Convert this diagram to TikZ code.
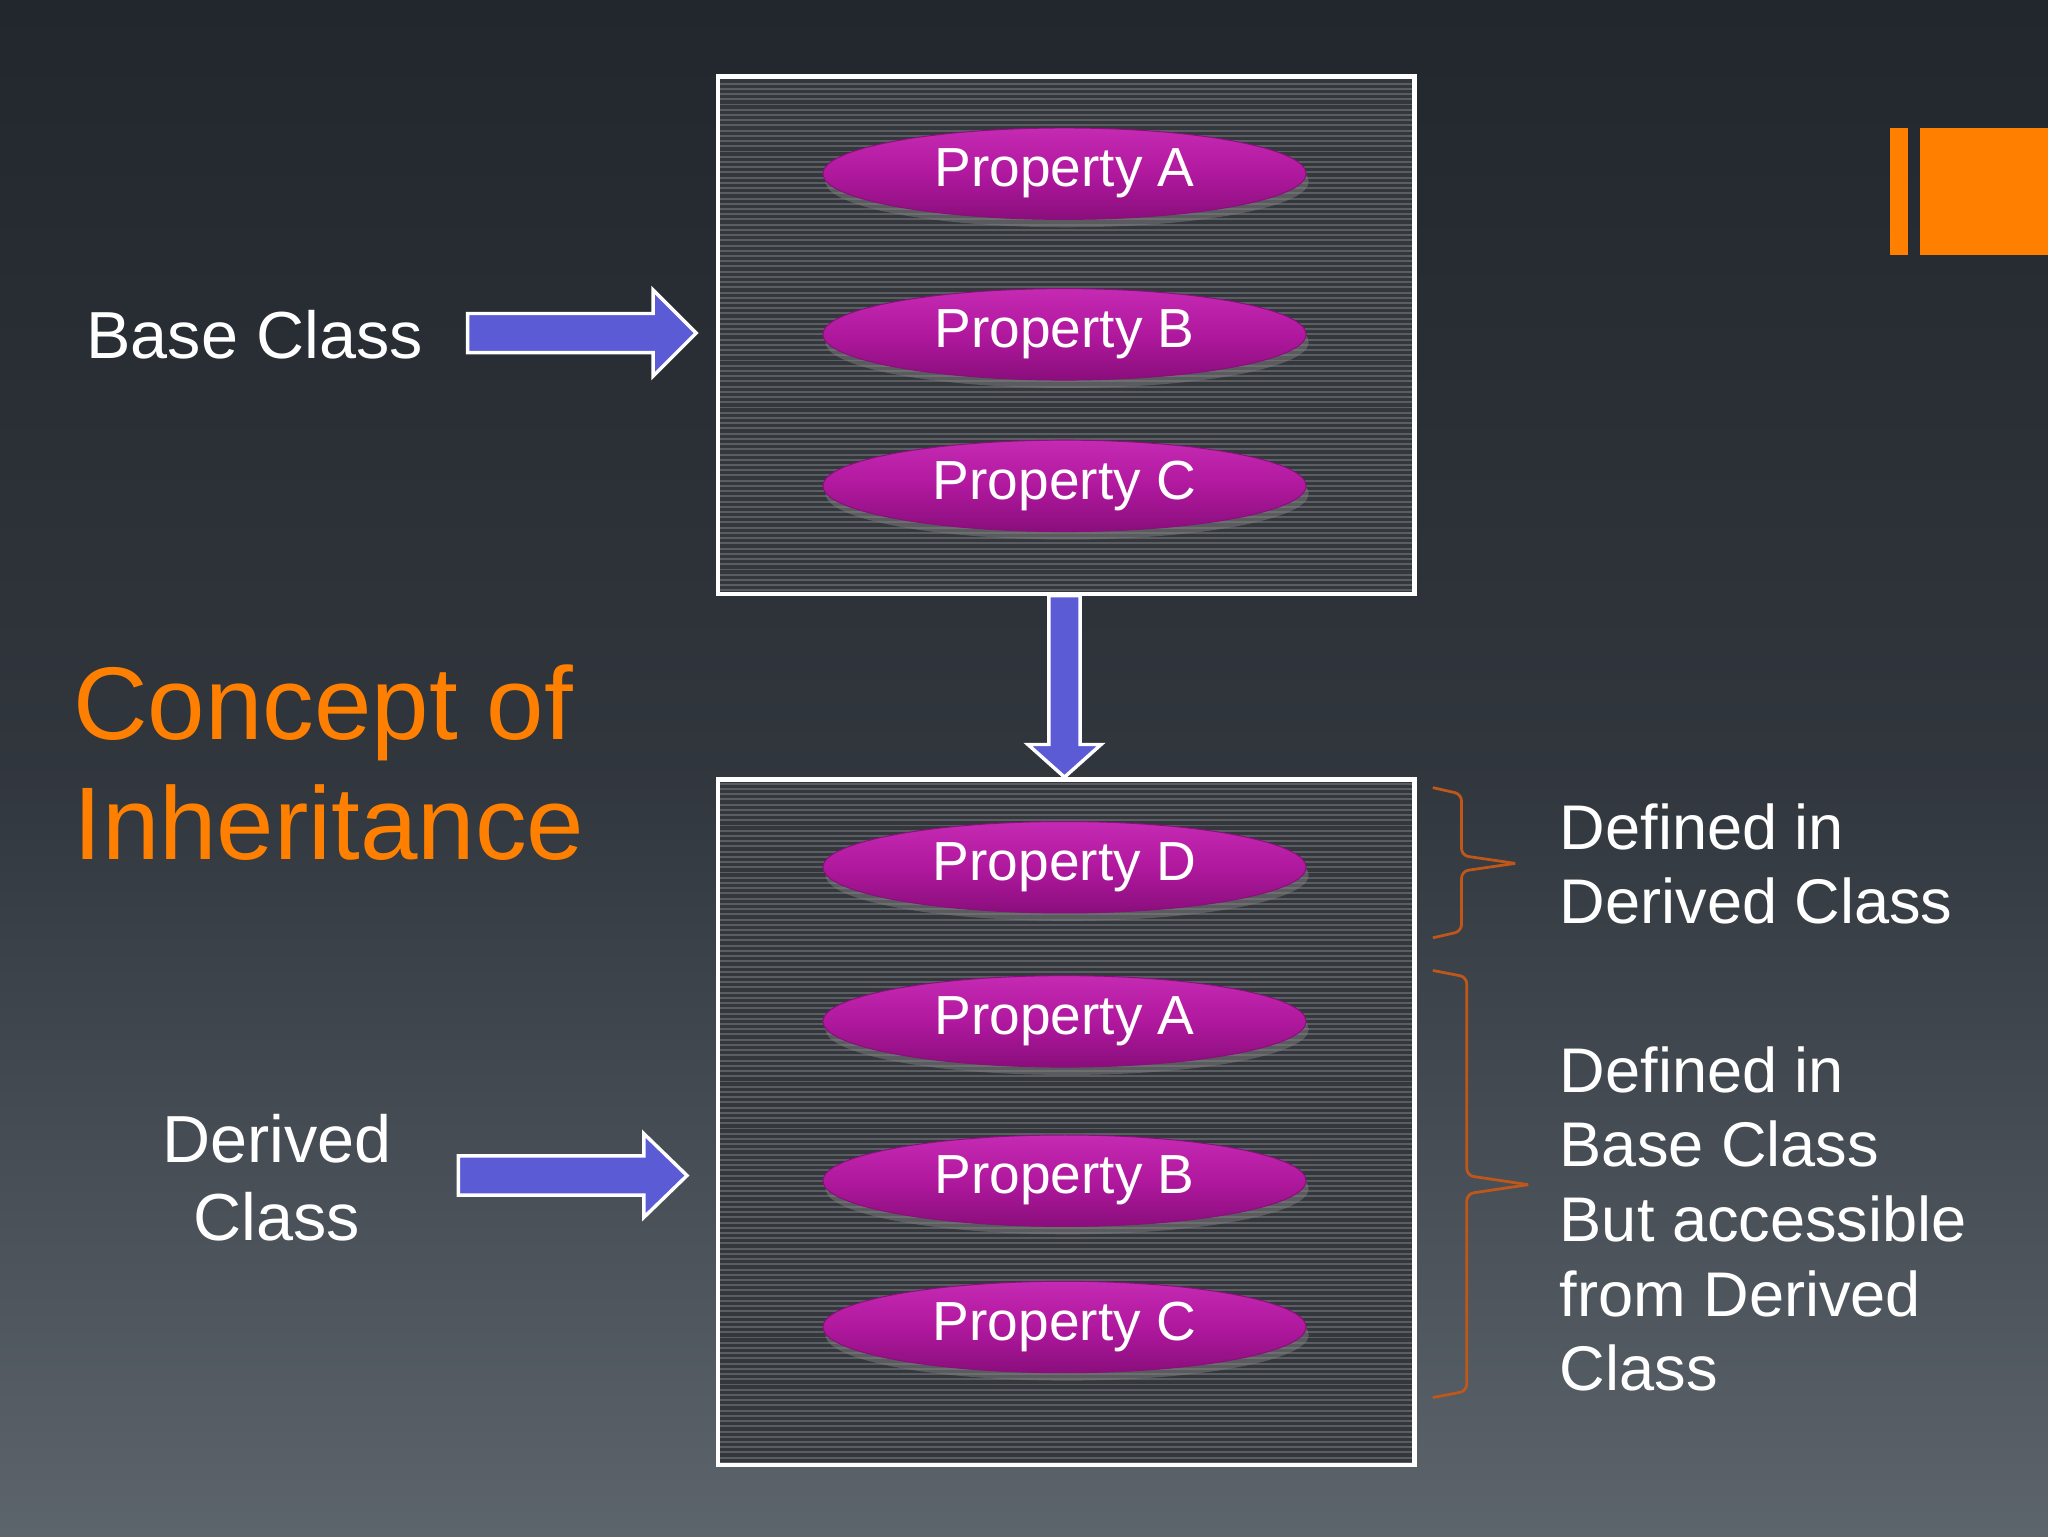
\documentclass[tikz,border=0pt]{standalone}
\usepackage{fontspec}
\setmainfont{Liberation Sans}
\usetikzlibrary{shadows,shapes.geometric}
\definecolor{org}{HTML}{FF8000}
\definecolor{brc}{HTML}{C0571A}
\definecolor{arr}{HTML}{5B5BD6}
\definecolor{bgtop}{HTML}{22272D}
\definecolor{bgbot}{HTML}{5C646C}
\definecolor{boxfill}{HTML}{34373C}
\definecolor{stripe}{HTML}{5A5D61}
\definecolor{ptop}{HTML}{C42AB2}
\definecolor{pmid}{HTML}{B0189E}
\definecolor{pbot}{HTML}{8A0E7C}
\tikzset{
  prop/.style={ellipse,minimum width=74mm,minimum height=14mm,inner sep=0pt,
    top color=ptop,bottom color=pbot,middle color=pmid,
    draw=pbot,line width=0.4pt,text=white,font=\fontsize{24}{29}\selectfont,
    drop shadow={shadow xshift=0.4mm,shadow yshift=-1.2mm,opacity=0.5}},
  lbl/.style={text=white,font=\fontsize{27.5}{32.5}\selectfont,align=left,anchor=north west},
  bx/.style={draw=white,line width=2pt},
  bigarrow/.style={fill=arr,draw=white,line width=1.5pt,line join=miter},
  brace/.style={draw=brc,line width=1.2pt,rounded corners=3pt}
}
\newcommand{\stripebox}[5]{% name x1 y1 x2 y2
  \fill[boxfill] (#2,#3) rectangle (#4,#5);
  \foreach \yy in {#3,...,#5}{\pgfmathparse{mod(\yy,4)}\ifdim\pgfmathresult pt<1pt\draw[stripe,line width=0.3mm] (#2,\yy) -- (#4,\yy);\fi}
  \node[bx,minimum width={(#4-#2)*0.2mm},minimum height={(#5-#3)*0.2mm},inner sep=0pt,anchor=north west] (#1) at (#2,#3) {};
}
\begin{document}
\begin{tikzpicture}[x=0.2mm,y=-0.2mm]
\useasboundingbox (0,0) rectangle (1568,1176);
\shade[top color=bgtop,bottom color=bgbot,middle color=bgtop!75!bgbot] (0,0) rectangle (1568,1176);
\fill[org] (1447,98) rectangle (1461,195);
\fill[org] (1470,98) rectangle (1568,195);
\stripebox{base}{548}{57}{1081}{453}
\stripebox{der}{548}{595}{1081}{1120}
\node[prop] (ba) at (815,133) {Property A};
\node[prop] (bb) at (815,256) {Property B};
\node[prop] (bc) at (815,372) {Property C};
\node[prop] (dd) at (815,664) {Property D};
\node[prop] (da) at (815,782) {Property A};
\node[prop] (db) at (815,904) {Property B};
\node[prop] (dc) at (815,1016) {Property C};
% down arrow
\draw[bigarrow] (803,456) -- (827,456) -- (827,570) -- (843,570) -- (815,595) -- (787,570) -- (803,570) -- cycle;
% base class arrow
\draw[bigarrow] (358,240) -- (500,240) -- (500,222) -- (533,255) -- (500,288) -- (500,270) -- (358,270) -- cycle;
\draw[bigarrow] (351,885) -- (493,885) -- (493,868) -- (526,900) -- (493,932) -- (493,915) -- (351,915) -- cycle;
\node[text=white,font=\fontsize{29}{34}\selectfont] (bl) at (195,256) {Base Class};
\node[text=white,font=\fontsize{29}{34}\selectfont,align=center] (dl) at (212,902) {Derived\\Class};
\node[text=org,font=\fontsize{45}{52}\selectfont,align=left,anchor=west] (title) at (50,584) {Concept of\\Inheritance};
\draw[brace] (1097,603) -- (1119,608) -- (1119,655) -- (1160,661);
\draw[brace] (1160,661) -- (1119,667) -- (1119,713) -- (1097,718);
\draw[brace] (1097,743) -- (1123,748) -- (1123,900) -- (1170,907);
\draw[brace] (1170,907) -- (1123,914) -- (1123,1065) -- (1097,1070);
\node[lbl] (t1) at (1188,609) {Defined in\\Derived Class};
\node[lbl] (t2) at (1188,795) {Defined in\\Base Class\\But accessible\\from Derived\\Class};
\end{tikzpicture}
\end{document}
